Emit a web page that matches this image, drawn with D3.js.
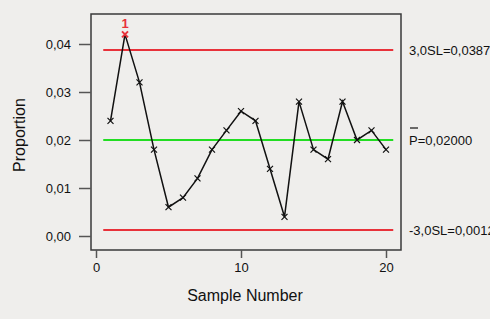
<!DOCTYPE html>
<html>
<head>
<meta charset="utf-8">
<script src="https://cdn.jsdelivr.net/npm/d3@7"></script>
<style>
  body { margin: 0; background: #efeeec; }
  svg { display: block; font-family: "Liberation Sans", Arial, sans-serif; }
</style>
</head>
<body>
<div id="chart"></div>
<script>
var samples = d3.range(1, 21);
var proportions = [0.024, 0.042, 0.032, 0.018, 0.006, 0.008, 0.012, 0.018, 0.022, 0.026,
                   0.024, 0.014, 0.004, 0.028, 0.018, 0.016, 0.028, 0.020, 0.022, 0.018];
var ucl = 0.03875;
var center = 0.02;
var lcl = 0.00125;
var yTicks = [0, 0.01, 0.02, 0.03, 0.04];
var xTicks = [0, 10, 20];
var outOfControl = [2];

var width = 490, height = 319;

var svg = d3.select("#chart").append("svg")
    .attr("width", width)
    .attr("height", height);

var x = d3.scaleLinear().domain([0, 20]).range([96, 386]);
var y = d3.scaleLinear().domain([0, 0.04]).range([236, 44]);

var fmt = function(d) { return d3.format(".2f")(d).replace(".", ","); };

// plot frame
svg.append("path")
    .attr("d", "M91,250 V14 H401 V250 Z")
    .attr("fill", "none")
    .attr("stroke", "#3a3a3a")
    .attr("stroke-width", 1.5);

// y axis
var yAxis = svg.append("g")
    .attr("transform", "translate(91,0)")
    .call(d3.axisLeft(y).tickValues(yTicks).tickSize(12).tickPadding(8).tickFormat(fmt));
yAxis.select(".domain").remove();
yAxis.selectAll("line").attr("stroke", "#555").attr("stroke-width", 1.5);
yAxis.selectAll("text").attr("font-size", 13).attr("fill", "#111")
    .attr("font-family", "Liberation Sans, Arial, sans-serif");

// x axis
var xAxis = svg.append("g")
    .attr("transform", "translate(0,250)")
    .call(d3.axisBottom(x).tickValues(xTicks).tickSize(8).tickPadding(5));
xAxis.select(".domain").remove();
xAxis.selectAll("line").attr("stroke", "#555").attr("stroke-width", 1.5);
xAxis.selectAll("text").attr("font-size", 13).attr("fill", "#111")
    .attr("font-family", "Liberation Sans, Arial, sans-serif");

// control lines
var limits = [
  {v: ucl, color: "#e8313a", label: "3,0SL=0,03875"},
  {v: center, color: "#22dd22", label: "P=0,02000"},
  {v: lcl, color: "#e8313a", label: "-3,0SL=0,001250"}
];

svg.selectAll(".limit").data(limits).enter().append("line")
    .attr("class", "limit")
    .attr("x1", x(0.5)).attr("x2", x(20.5))
    .attr("y1", function(d) { return y(d.v); })
    .attr("y2", function(d) { return y(d.v); })
    .attr("stroke", function(d) { return d.color; })
    .attr("stroke-width", 2);

svg.selectAll(".limitText").data(limits).enter().append("text")
    .attr("class", "limitText")
    .attr("x", 409)
    .attr("y", function(d) { return y(d.v) + 5; })
    .attr("font-size", 13)
    .attr("fill", "#111")
    .text(function(d) { return d.label; });

// bar over P
svg.append("line")
    .attr("x1", 410).attr("x2", 418)
    .attr("y1", y(center) - 12).attr("y2", y(center) - 12)
    .attr("stroke", "#111").attr("stroke-width", 1.2);

// data line
var line = d3.line()
    .x(function(d, i) { return x(samples[i]); })
    .y(function(d) { return y(d); });

svg.append("path")
    .datum(proportions)
    .attr("d", line)
    .attr("fill", "none")
    .attr("stroke", "#111")
    .attr("stroke-width", 1.5);

// x markers
var s = 3;
svg.selectAll(".mark").data(proportions).enter().append("path")
    .attr("class", "mark")
    .attr("d", function(d, i) {
      var cx = x(samples[i]), cy = y(d);
      return "M" + (cx - s) + "," + (cy - s) + "L" + (cx + s) + "," + (cy + s) +
             "M" + (cx - s) + "," + (cy + s) + "L" + (cx + s) + "," + (cy - s);
    })
    .attr("stroke", function(d, i) { return outOfControl.indexOf(samples[i]) >= 0 ? "#e8313a" : "#111"; })
    .attr("stroke-width", function(d, i) { return outOfControl.indexOf(samples[i]) >= 0 ? 2 : 1.2; });

svg.selectAll(".flag").data(outOfControl).enter().append("text")
    .attr("class", "flag")
    .attr("x", function(d) { return x(d); })
    .attr("y", function(d) { return y(proportions[d - 1]) - 6; })
    .attr("text-anchor", "middle")
    .attr("font-size", 13)
    .attr("font-weight", "bold")
    .attr("fill", "#e8313a")
    .text(function(d) { return "1"; });

// axis titles
svg.append("text")
    .attr("transform", "translate(25,135) rotate(-90)")
    .attr("text-anchor", "middle")
    .attr("font-size", 16)
    .attr("fill", "#111")
    .text("Proportion");

svg.append("text")
    .attr("x", 245)
    .attr("y", 301)
    .attr("text-anchor", "middle")
    .attr("font-size", 16)
    .attr("fill", "#111")
    .text("Sample Number");
</script>
</body>
</html>
